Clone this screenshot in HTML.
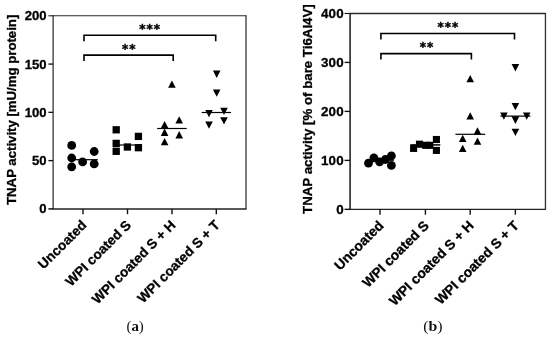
<!DOCTYPE html>
<html><head><meta charset="utf-8"><title>TNAP activity</title>
<style>
html,body{margin:0;padding:0;background:#fff;}
body{width:550px;height:339px;overflow:hidden;}
svg{display:block;}
.sans text{stroke:#000;stroke-width:0.3px;}
</style></head>
<body>
<svg width="550" height="339" viewBox="0 0 550 339">
<rect width="550" height="339" fill="#fff"/>
<g class="sans" font-family="Liberation Sans, Arial, sans-serif" font-weight="bold" font-size="13.1px" fill="#000">
<path d="M53.1,15.8 H246.0" fill="none" stroke="#2a2a2a" stroke-width="1.05"/><path d="M246.0,15.3 V208.9" fill="none" stroke="#333" stroke-width="1.3"/><line x1="53.1" x2="53.1" y1="15.3" y2="208.9" stroke="#262626" stroke-width="1.2"/><line x1="52.5" x2="246.5" y1="208.9" y2="208.9" stroke="#222" stroke-width="1.5"/>
<line x1="48.4" x2="53.1" y1="15.80" y2="15.80" stroke="#111" stroke-width="1.05"/>
<text x="46.5" y="20.35" text-anchor="end">200</text>
<line x1="48.4" x2="53.1" y1="64.08" y2="64.08" stroke="#111" stroke-width="1.35"/>
<text x="46.5" y="68.62" text-anchor="end">150</text>
<line x1="48.4" x2="53.1" y1="112.35" y2="112.35" stroke="#111" stroke-width="1.35"/>
<text x="46.5" y="116.90" text-anchor="end">100</text>
<line x1="48.4" x2="53.1" y1="160.62" y2="160.62" stroke="#111" stroke-width="1.35"/>
<text x="46.5" y="165.18" text-anchor="end">50</text>
<line x1="48.4" x2="53.1" y1="208.90" y2="208.90" stroke="#111" stroke-width="1.5"/>
<text x="46.5" y="213.45" text-anchor="end">0</text>
<line x1="83.0" x2="83.0" y1="208.9" y2="214.20000000000002" stroke="#111" stroke-width="1.4"/>
<text transform="translate(87.4,226.0) rotate(-45)" text-anchor="end" font-size="13.6px">Uncoated</text>
<line x1="127.5" x2="127.5" y1="208.9" y2="214.20000000000002" stroke="#111" stroke-width="1.4"/>
<text transform="translate(131.9,226.0) rotate(-45)" text-anchor="end" font-size="13.6px">WPI coated S</text>
<line x1="172.0" x2="172.0" y1="208.9" y2="214.20000000000002" stroke="#111" stroke-width="1.4"/>
<text transform="translate(176.4,226.0) rotate(-45)" text-anchor="end" font-size="13.6px">WPI coated S + H</text>
<line x1="216.3" x2="216.3" y1="208.9" y2="214.20000000000002" stroke="#111" stroke-width="1.4"/>
<text transform="translate(220.70000000000002,226.0) rotate(-45)" text-anchor="end" font-size="13.6px">WPI coated S + T</text>
<text transform="translate(16.3,109.85) rotate(-90)" text-anchor="middle" font-size="13.2px">TNAP activity [mU/mg protein]</text>
<path d="M84.0,41.15 V35.25 H215.7 V41.15" fill="none" stroke="#000" stroke-width="1.6"/>
<path d="M84.0,61.05 V55.15 H173.2 V61.05" fill="none" stroke="#000" stroke-width="1.6"/>
<text x="139.26" y="32.88" font-family="DejaVu Sans, sans-serif" font-size="12.0px" letter-spacing="1.0" font-weight="bold" style="stroke:#000;stroke-width:0.45px">***</text>
<text x="121.90" y="52.78" font-family="DejaVu Sans, sans-serif" font-size="12.0px" letter-spacing="1.0" font-weight="bold" style="stroke:#000;stroke-width:0.45px">**</text>
<line x1="68.20" x2="97.80" y1="159.70" y2="159.70" stroke="#000" stroke-width="1.2"/>
<circle cx="71.70" cy="145.40" r="4.4"/>
<circle cx="71.70" cy="158.00" r="4.4"/>
<circle cx="71.70" cy="166.80" r="4.4"/>
<circle cx="82.60" cy="161.90" r="4.4"/>
<circle cx="94.20" cy="151.50" r="4.4"/>
<circle cx="94.20" cy="163.90" r="4.4"/>
<line x1="113.00" x2="141.80" y1="145.00" y2="145.00" stroke="#000" stroke-width="1.2"/>
<rect x="112.55" y="126.15" width="7.3" height="7.3"/>
<rect x="112.55" y="139.75" width="7.3" height="7.3"/>
<rect x="112.55" y="147.65" width="7.3" height="7.3"/>
<rect x="123.75" y="143.35" width="7.3" height="7.3"/>
<rect x="134.75" y="132.75" width="7.3" height="7.3"/>
<rect x="134.75" y="144.05" width="7.3" height="7.3"/>
<line x1="157.20" x2="186.70" y1="128.50" y2="128.50" stroke="#000" stroke-width="1.2"/>
<polygon points="168.10,87.80 175.70,87.80 171.90,80.50"/>
<polygon points="160.80,128.30 168.40,128.30 164.60,121.00"/>
<polygon points="160.80,135.90 168.40,135.90 164.60,128.60"/>
<polygon points="160.80,145.20 168.40,145.20 164.60,137.90"/>
<polygon points="175.40,123.50 183.00,123.50 179.20,116.20"/>
<polygon points="175.40,138.40 183.00,138.40 179.20,131.10"/>
<line x1="201.70" x2="231.00" y1="112.50" y2="112.50" stroke="#000" stroke-width="1.2"/>
<polygon points="212.90,70.60 220.50,70.60 216.70,77.90"/>
<polygon points="212.90,89.50 220.50,89.50 216.70,96.80"/>
<polygon points="205.20,110.00 212.80,110.00 209.00,117.30"/>
<polygon points="205.20,121.50 212.80,121.50 209.00,128.80"/>
<polygon points="220.20,107.70 227.80,107.70 224.00,115.00"/>
<polygon points="220.20,117.30 227.80,117.30 224.00,124.60"/>
</g>
<g class="sans" font-family="Liberation Sans, Arial, sans-serif" font-weight="bold" font-size="13.1px" fill="#000">
<path d="M350.1,13.45 H545.45" fill="none" stroke="#2a2a2a" stroke-width="1.4"/><path d="M545.45,12.95 V209.35" fill="none" stroke="#333" stroke-width="1.35"/><line x1="350.1" x2="350.1" y1="12.95" y2="209.35" stroke="#262626" stroke-width="1.6"/><line x1="349.5" x2="545.95" y1="209.35" y2="209.35" stroke="#222" stroke-width="1.4"/>
<line x1="344.6" x2="350.1" y1="13.45" y2="13.45" stroke="#111" stroke-width="1.1"/>
<text x="343.8" y="18.40" text-anchor="end" font-size="13.4px" letter-spacing="0.15">400</text>
<line x1="344.6" x2="350.1" y1="62.42" y2="62.42" stroke="#111" stroke-width="1.35"/>
<text x="343.8" y="67.38" text-anchor="end" font-size="13.4px" letter-spacing="0.15">300</text>
<line x1="344.6" x2="350.1" y1="111.40" y2="111.40" stroke="#111" stroke-width="1.35"/>
<text x="343.8" y="116.35" text-anchor="end" font-size="13.4px" letter-spacing="0.15">200</text>
<line x1="344.6" x2="350.1" y1="160.38" y2="160.38" stroke="#111" stroke-width="1.35"/>
<text x="343.8" y="165.32" text-anchor="end" font-size="13.4px" letter-spacing="0.15">100</text>
<line x1="344.6" x2="350.1" y1="209.35" y2="209.35" stroke="#111" stroke-width="1.4"/>
<text x="343.8" y="214.30" text-anchor="end" font-size="13.4px" letter-spacing="0.15">0</text>
<line x1="380.0" x2="380.0" y1="209.35" y2="214.65" stroke="#111" stroke-width="1.4"/>
<text transform="translate(384.4,226.45) rotate(-45)" text-anchor="end" font-size="13.8px">Uncoated</text>
<line x1="425.4" x2="425.4" y1="209.35" y2="214.65" stroke="#111" stroke-width="1.4"/>
<text transform="translate(429.79999999999995,226.45) rotate(-45)" text-anchor="end" font-size="13.8px">WPI coated S</text>
<line x1="470.2" x2="470.2" y1="209.35" y2="214.65" stroke="#111" stroke-width="1.4"/>
<text transform="translate(474.59999999999997,226.45) rotate(-45)" text-anchor="end" font-size="13.8px">WPI coated S + H</text>
<line x1="515.35" x2="515.35" y1="209.35" y2="214.65" stroke="#111" stroke-width="1.4"/>
<text transform="translate(519.75,226.45) rotate(-45)" text-anchor="end" font-size="13.8px">WPI coated S + T</text>
<text transform="translate(312.2,109.10) rotate(-90)" text-anchor="middle" font-size="13.27px">TNAP activity [% of bare Ti6Al4V]</text>
<path d="M380.9,39.4 V33.5 H514.5 V39.4" fill="none" stroke="#000" stroke-width="1.6"/>
<path d="M380.9,59.5 V53.6 H471.4 V59.5" fill="none" stroke="#000" stroke-width="1.6"/>
<text x="437.46" y="31.13" font-family="DejaVu Sans, sans-serif" font-size="12.0px" letter-spacing="1.0" font-weight="bold" style="stroke:#000;stroke-width:0.45px">***</text>
<text x="419.70" y="51.23" font-family="DejaVu Sans, sans-serif" font-size="12.0px" letter-spacing="1.0" font-weight="bold" style="stroke:#000;stroke-width:0.45px">**</text>
<line x1="366.00" x2="394.00" y1="160.20" y2="160.20" stroke="#000" stroke-width="1.2"/>
<circle cx="368.50" cy="163.20" r="4.4"/>
<circle cx="373.90" cy="157.80" r="4.4"/>
<circle cx="379.60" cy="161.80" r="4.4"/>
<circle cx="385.30" cy="159.50" r="4.4"/>
<circle cx="391.40" cy="155.80" r="4.4"/>
<circle cx="391.40" cy="165.40" r="4.4"/>
<line x1="410.50" x2="440.30" y1="144.90" y2="144.90" stroke="#000" stroke-width="1.5"/>
<rect x="410.05" y="144.85" width="7.1" height="7.1"/>
<rect x="415.95" y="140.65" width="7.1" height="7.1"/>
<rect x="422.15" y="141.75" width="7.1" height="7.1"/>
<rect x="426.25" y="141.75" width="7.1" height="7.1"/>
<rect x="432.85" y="135.95" width="7.1" height="7.1"/>
<rect x="432.85" y="146.85" width="7.1" height="7.1"/>
<line x1="455.40" x2="485.20" y1="134.30" y2="134.30" stroke="#000" stroke-width="1.2"/>
<polygon points="466.40,82.20 474.00,82.20 470.20,74.90"/>
<polygon points="466.40,119.50 474.00,119.50 470.20,112.20"/>
<polygon points="473.70,134.60 481.30,134.60 477.50,127.30"/>
<polygon points="473.70,144.80 481.30,144.80 477.50,137.50"/>
<polygon points="458.90,142.00 466.50,142.00 462.70,134.70"/>
<polygon points="458.90,152.10 466.50,152.10 462.70,144.80"/>
<line x1="500.40" x2="530.40" y1="116.10" y2="116.10" stroke="#000" stroke-width="1.2"/>
<polygon points="511.60,64.10 519.20,64.10 515.40,71.40"/>
<polygon points="511.60,103.00 519.20,103.00 515.40,110.30"/>
<polygon points="500.10,112.40 507.70,112.40 503.90,119.70"/>
<polygon points="522.90,112.40 530.50,112.40 526.70,119.70"/>
<polygon points="511.40,116.30 519.40,116.30 515.40,124.00"/>
<polygon points="511.60,128.80 519.20,128.80 515.40,136.10"/>
</g>
<g font-family="Liberation Serif, serif" font-size="15.4px" fill="#111">
<text transform="translate(135.1,331.3) scale(0.97,1)" text-anchor="middle">(<tspan font-weight="bold">a</tspan>)</text>
<text transform="translate(432.9,331.3) scale(1.03,1)" text-anchor="middle">(<tspan font-weight="bold">b</tspan>)</text>
</g>
</svg>
</body></html>
